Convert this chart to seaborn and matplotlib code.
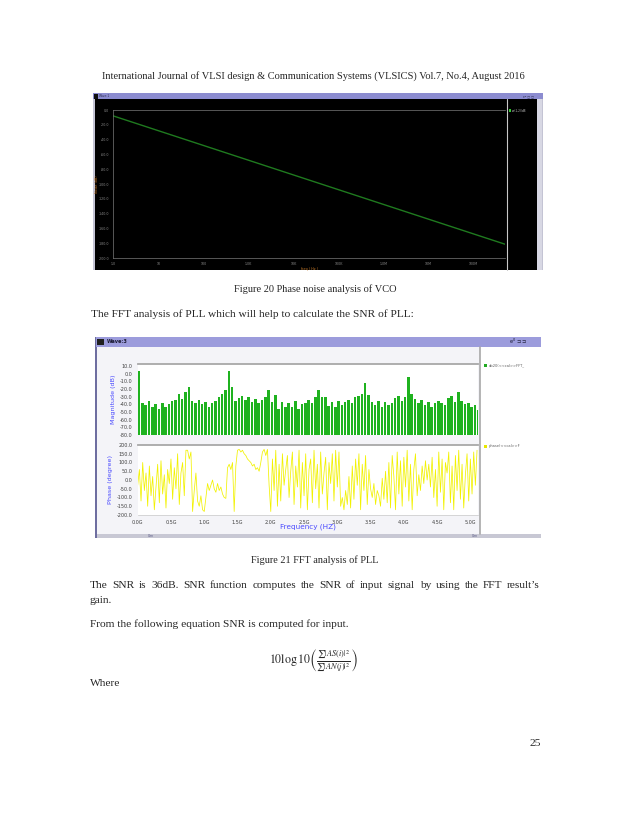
import numpy as np
import pandas as pd
import seaborn as sns
import matplotlib.pyplot as plt
from matplotlib.patches import Rectangle
from matplotlib.ticker import FixedLocator, NullFormatter

# ---- data ----
# Figure 20: phase noise of the VCO (straight line on a log axis)
pn_freq = [1.0, 10 ** 8.7]
pn_db = [-8.0, -181.0]
pn_yticks = [0, -20, -40, -60, -80, -100, -120, -140, -160, -180, -200]
pn_xticks = [1, 10, 100, 1e3, 1e4, 1e5, 1e6, 1e7, 1e8]
pn_xlabels = ["1.0", "10", "100", "1.0K", "10K", "100K", "1.0M", "10M", "100M"]

# Figure 21: FFT of PLL, magnitude (dB) every 0.05 GHz
mag_step = 0.05
mag_db = [
    3, -38, -41, -36, -44, -40, -46, -38, -43, -40,
    -36, -34, -27, -33, -24, -17, -36, -39, -35, -40,
    -37, -43, -38, -36, -31, -27, -21, 3, -17, -36,
    -32, -29, -34, -31, -37, -33, -39, -35, -31, -22,
    -37, -28, -46, -37, -43, -39, -44, -36, -46, -40,
    -38, -35, -38, -31, -22, -30, -31, -42, -37, -43,
    -36, -41, -37, -34, -38, -31, -29, -26, -12, -28,
    -37, -41, -36, -43, -37, -41, -38, -32, -29, -36,
    -30, -5, -27, -33, -38, -35, -41, -37, -43, -38,
    -36, -39, -41, -32, -29, -37, -24, -36, -40, -38,
    -43, -41, -47,
]

# phase (degree) every 0.025 GHz
ph_step = 0.025
phase_deg = [
    -30, 60, -120, 100, -60, 40, -150, 80, -90, 20,
    -170, -40, 90, -130, 110, -80, 30, -160, 60, -20,
    120, -110, 70, -50, 150, -140, 40, 100, -90, 170,
    170, 120, 160, -180, -60, 40, -120, -150, -90, -170,
    -180, -100, -20, -60, -30, 0, -50, -70, -20, -60,
    -40, -80, -100, -105, 70, 90, 60, 100, -180, 80,
    170, 175, 160, 170, 150, 140, 120, 110, 100, 80,
    90, 60, 70, 50, 100, 160, 175, 140, 175, -30,
    -180, 120, -60, 170, -150, 90, -120, 150, -30, 60,
    140, -100, 50, 160, -140, 80, -40, 170, -160, 100,
    -90, 150, -170, 60, 120, -130, 170, -50, 90, -160,
    160, -80, 40, 130, -170, 100, -20, 150, -120, 170,
    -40, 160, -150, -100, -170, -60, -140, 20, -160, 80,
    -110, 120, -30, 150, -170, 90, -60, 140, -140, 60,
    -50, -100, -20, -140, -60, -90, -150, 10, -110, 50,
    -130, 100, -160, 140, 20, -170, 160, -80, 110, -150,
    130, -40, 170, -120, 90, -170, 60, 150, -90, 30,
    -60, 80, -20, 110, 0, 90, -40, 130, -100, 60,
    -150, 160, -70, 120, -170, 100, 40, 160, -130, 80,
    -170, 140, -60, 170, -110, 90, -160, 30, 150, -120,
    120, -80, 160, -30, 170,
]
mag_yticks = [10, 0, -10, -20, -30, -40, -50, -60, -70, -80]
ph_yticks = [200, 150, 100, 50, 0, -50, -100, -150, -200]
fft_xticks = [0, 0.5, 1.0, 1.5, 2.0, 2.5, 3.0, 3.5, 4.0, 4.5, 5.0]

mag = pd.DataFrame({"freq": np.arange(len(mag_db)) * mag_step, "db": mag_db})
ph = pd.DataFrame({"freq": np.arange(len(phase_deg)) * ph_step, "deg": phase_deg})

W, H = 638, 826
sns.set_style("white")
plt.rcParams["font.family"] = ["DejaVu Sans"]
fig = plt.figure(figsize=(W / 100, H / 100), dpi=100)
renderer = fig.canvas.get_renderer()


def rect(x0, y0, x1, y1):
    return [x0 / W, 1 - y1 / H, (x1 - x0) / W, (y1 - y0) / H]


# page layer in pixel coordinates
page = fig.add_axes([0, 0, 1, 1])
page.set_xlim(0, W)
page.set_ylim(H, 0)
page.axis("off")


def box(x0, y0, x1, y1, c, z=0):
    page.add_patch(Rectangle((x0, y0), x1 - x0, y1 - y0, color=c, lw=0, zorder=z))


def fit(s, x0, x1, y, ha="left", **kw):
    t = page.text(x0 if ha == "left" else (x0 + x1) / 2, y, s, ha=ha, va="center",
                  family="Liberation Serif", fontsize=8, **kw)
    w = t.get_window_extent(renderer).width
    t.set_fontsize(8 * (x1 - x0) / w)
    return t


def justify(s, x0, x1, y, size):
    words = s.split()
    ts = [page.text(0, y, wd, va="center", family="Liberation Serif", fontsize=size)
          for wd in words]
    ws = [t.get_window_extent(renderer).width for t in ts]
    gap = ((x1 - x0) - sum(ws)) / (len(words) - 1)
    x = x0
    for t, w in zip(ts, ws):
        t.set_x(x)
        x += w + gap


# ---- text of the page ----
fit("International Journal of VLSI design & Communication Systems (VLSICS) Vol.7, No.4, August 2016",
    102, 527, 76.5)
fit("Figure 20 Phase noise analysis of VCO", 233, 397, 289.5, ha="center")
body = fit("From the following equation SNR is computed for input.", 90, 350, 624)
bsize = body.get_fontsize()
page.text(91, 314, "The FFT analysis of PLL which will help to calculate the SNR of PLL:",
          va="center", family="Liberation Serif", fontsize=bsize)
fit("Figure 21 FFT analysis of PLL", 251, 379, 560.5, ha="center")
justify("The SNR is 36dB. SNR function computes the SNR of input signal by using the FFT result\u2019s",
        90, 540, 585.5, bsize)
page.text(90, 600.5, "gain.", va="center", family="Liberation Serif", fontsize=bsize)
page.text(269, 661, r"$10\log10\left(\frac{\sum|AS(i)|^2}{\sum|AN(j)|^2}\right)$",
          va="center", fontsize=8.6, math_fontfamily="stix")
page.text(90, 683.5, "Where", va="center", family="Liberation Serif", fontsize=bsize)
page.text(535, 743, "25", ha="center", va="center", family="Liberation Serif", fontsize=bsize)

# ---- Figure 20 screenshot frame ----
box(93, 93, 543, 270, "#c4c4d4")
box(93, 93, 543, 99, "#8c8cd0")
box(94, 94, 98, 98.5, "#101010", 1)
page.text(99, 96, "Wave:1", fontsize=2.2, va="center", color="#303050")
page.text(534, 96, "e\u00ba \u25a1 \u25a1", fontsize=2.2, va="center", ha="right", color="#303050")
box(95, 99, 537, 269.5, "#000000")
box(537, 99, 542, 269.5, "#d8d8e4")
page.plot([506.8, 506.8], [99, 269.5], color="#c8c8c8", lw=0.8)
box(508.5, 109, 511, 112, "#33cc33", 2)
page.text(512, 110.5, "vn(1,2)/dB", fontsize=2.0, va="center", color="#c0c0c0")

ax0 = fig.add_axes(rect(113.3, 110, 505, 258.3))
ax0.set_facecolor("black")
sns.lineplot(x=pn_freq, y=pn_db, ax=ax0, color="#1f7a1f", lw=1.0)
ax0.set_xscale("log")
ax0.set_xlim(1, 10 ** 8.7)
ax0.set_ylim(-200, 0)
ax0.set_yticks(pn_yticks)
ax0.set_yticklabels([f"{v:.1f}" for v in pn_yticks])
ax0.xaxis.set_major_locator(FixedLocator(pn_xticks))
ax0.set_xticklabels(pn_xlabels)
ax0.xaxis.set_minor_formatter(NullFormatter())
ax0.tick_params(axis="both", which="both", colors="#8a8a8a", labelsize=2.3,
                length=1.5, width=0.4, pad=1.5)
ax0.tick_params(axis="x", which="minor", length=1.0)
for side, sp in ax0.spines.items():
    sp.set_color("#7a7a7a")
    sp.set_linewidth(0.5)
ax0.spines["right"].set_visible(False)
ax0.set_xlabel("freq ( Hz )", color="#c87a28", fontsize=2.4, labelpad=0.5)
ax0.set_ylabel("Noise (dB)", color="#c87a28", fontsize=2.4, labelpad=0)

# ---- Figure 21 screenshot frame ----
box(95, 337, 541, 538, "#6e6ea0")
box(96, 337, 541, 346.5, "#9c9cdc")
box(97, 338.5, 104, 344.5, "#202020", 1)
page.text(107, 341.8, "Wave:3", fontsize=3.6, fontweight="bold", va="center", color="#181830")
page.text(528, 341.8, "e$^{\\rm 0}$ \u2290 \u2290", fontsize=3.6, va="center", ha="right", color="#181830")
box(97, 346.5, 541, 533.5, "#f4f4f8")
box(97, 533.5, 541, 538, "#c8c8d4")
box(480, 346.5, 541, 533.5, "#ffffff")
page.plot([479.5, 479.5], [346.5, 533.5], color="#a8a8a8", lw=1.2)
box(484, 363.5, 487, 366.8, "#22aa22", 2)
page.text(489, 365, "db20(<<cal>>FFT_", fontsize=2.6, va="center", color="#606060")
box(484, 444.5, 487, 447.8, "#e8e800", 2)
page.text(489, 446, "phase(<<cal>>F", fontsize=2.6, va="center", color="#606060")
page.text(148, 536, "Gen", fontsize=2.2, va="center", color="#505080")
page.text(472, 536, "Gen", fontsize=2.2, va="center", color="#505080")


def fft_axes(ax, ticks, lim, label):
    ax.set_facecolor("white")
    ax.set_xlim(0, 5.11)
    ax.set_ylim(*lim)
    ax.set_yticks(ticks)
    ax.set_yticklabels([f"{v:.1f}" for v in ticks])
    ax.set_xticks(fft_xticks)
    ax.tick_params(axis="both", colors="#404040", labelsize=3.5, length=2.5,
                   width=0.4, pad=1.2)
    for side in ["left", "right"]:
        ax.spines[side].set_visible(False)
    ax.spines["top"].set_color("#a8a8a8")
    ax.spines["top"].set_linewidth(1.3)
    ax.spines["bottom"].set_color("#c8c8c8")
    ax.spines["bottom"].set_linewidth(0.5)
    ax.set_ylabel(label, color="#4a4aff", fontsize=4.6, labelpad=3)


ax1 = fig.add_axes(rect(137.7, 364.3, 477.7, 435))
ax1.bar(mag["freq"], mag["db"] + 80, bottom=-80, width=0.038, color="#1fb21f",
        linewidth=0, align="edge")
fft_axes(ax1, mag_yticks, (-80, 12), "Magnitude (dB)")
ax1.tick_params(axis="x", labelbottom=False, length=0)
ax1.spines["bottom"].set_visible(False)

ax2 = fig.add_axes(rect(137.7, 445, 477.7, 515))
sns.lineplot(data=ph, x="freq", y="deg", ax=ax2, color="#f2f200", lw=0.55)
fft_axes(ax2, ph_yticks, (-200, 200), "Phase (degree)")
ax2.set_xticklabels([f"{v:.1f}G" for v in fft_xticks])
ax2.set_xlabel("Frequency (HZ)", color="#4a4aff", fontsize=5.2, labelpad=-1)

fig.savefig("out.png", dpi=100)
